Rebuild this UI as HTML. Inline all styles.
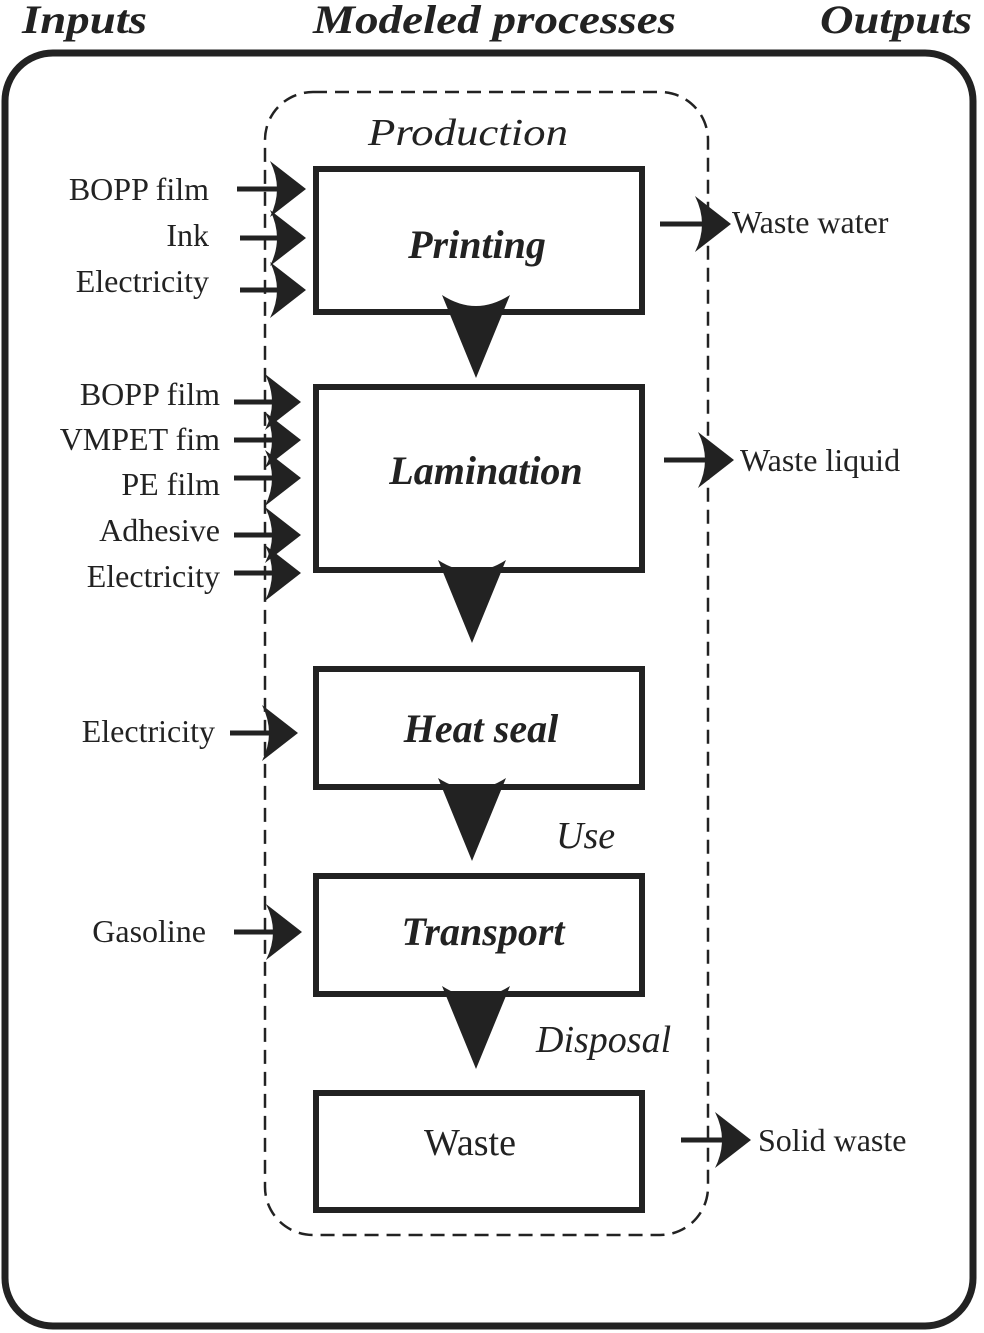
<!DOCTYPE html>
<html><head><meta charset="utf-8"><style>html,body{margin:0;padding:0;background:#fff}svg{display:block}</style></head>
<body>
<svg width="984" height="1333" viewBox="0 0 984 1333" xmlns="http://www.w3.org/2000/svg" font-family="'Liberation Serif',serif" fill="#222">
<defs>
<g id="ra"><path d="M0,0 L-36,-28 Q-22,0 -36,28 Z" fill="#222"/></g>
<g id="da"><path d="M-34,0 Q0,22 34,0 L0,83 Z" fill="#222"/></g>
</defs>
<g font-weight="bold" font-style="italic" font-size="40">
<text x="22" y="33" textLength="125" lengthAdjust="spacingAndGlyphs">Inputs</text>
<text x="313" y="33" textLength="363" lengthAdjust="spacingAndGlyphs">Modeled processes</text>
<text x="820" y="33" textLength="152" lengthAdjust="spacingAndGlyphs">Outputs</text>
</g>
<rect x="5" y="53" width="968" height="1273" rx="48" fill="none" stroke="#222" stroke-width="7"/>
<rect x="265" y="92" width="443" height="1143" rx="48" fill="none" stroke="#222" stroke-width="2.5" stroke-dasharray="14,8"/>
<g font-style="italic" font-size="38">
<text x="368" y="145" textLength="200" lengthAdjust="spacingAndGlyphs">Production</text>
<text x="556" y="848">Use</text>
<text x="536" y="1052">Disposal</text>
</g>
<g fill="none" stroke="#222" stroke-width="6">
<rect x="316" y="169" width="326" height="143"/>
<rect x="316" y="387" width="326" height="183"/>
<rect x="316" y="669" width="326" height="118"/>
<rect x="316" y="876" width="326" height="118"/>
<rect x="316" y="1093" width="326" height="117"/>
</g>
<g font-weight="bold" font-style="italic" font-size="40" text-anchor="middle">
<text x="477" y="258">Printing</text>
<text x="486" y="484">Lamination</text>
<text x="481" y="742">Heat seal</text>
<text x="483" y="945">Transport</text>
</g>
<text x="470" y="1155" font-size="38" text-anchor="middle">Waste</text>
<use href="#da" x="476" y="295"/>
<use href="#da" x="472" y="560"/>
<use href="#da" x="472" y="778"/>
<use href="#da" x="476" y="986"/>
<g stroke="#222" stroke-width="5">
<line x1="237" y1="189" x2="285" y2="189"/>
<line x1="240" y1="238" x2="285" y2="238"/>
<line x1="240" y1="290" x2="285" y2="290"/>
<line x1="234" y1="402" x2="280" y2="402"/>
<line x1="234" y1="440" x2="280" y2="440"/>
<line x1="234" y1="478" x2="280" y2="478"/>
<line x1="234" y1="535" x2="280" y2="535"/>
<line x1="234" y1="573" x2="280" y2="573"/>
<line x1="230" y1="733" x2="278" y2="733"/>
<line x1="234" y1="932" x2="282" y2="932"/>
<line x1="660" y1="224" x2="710" y2="224"/>
<line x1="664" y1="460" x2="713" y2="460"/>
<line x1="681" y1="1140" x2="730" y2="1140"/>
</g>
<use href="#ra" x="306" y="189"/>
<use href="#ra" x="306" y="238"/>
<use href="#ra" x="306" y="290"/>
<use href="#ra" x="301" y="402"/>
<use href="#ra" x="301" y="440"/>
<use href="#ra" x="301" y="478"/>
<use href="#ra" x="301" y="535"/>
<use href="#ra" x="301" y="573"/>
<use href="#ra" x="298" y="733"/>
<use href="#ra" x="302" y="932"/>
<use href="#ra" x="731" y="224"/>
<use href="#ra" x="734" y="460"/>
<use href="#ra" x="751" y="1140"/>
<g font-size="32" text-anchor="end">
<text x="209" y="200">BOPP film</text>
<text x="209" y="246">Ink</text>
<text x="209" y="292">Electricity</text>
<text x="220" y="405">BOPP film</text>
<text x="220" y="450">VMPET fim</text>
<text x="220" y="495">PE film</text>
<text x="220" y="541">Adhesive</text>
<text x="220" y="587">Electricity</text>
<text x="215" y="742">Electricity</text>
<text x="206" y="942">Gasoline</text>
</g>
<g font-size="32">
<text x="732" y="233">Waste water</text>
<text x="740" y="471">Waste liquid</text>
<text x="758" y="1151">Solid waste</text>
</g>
</svg>
</body></html>
